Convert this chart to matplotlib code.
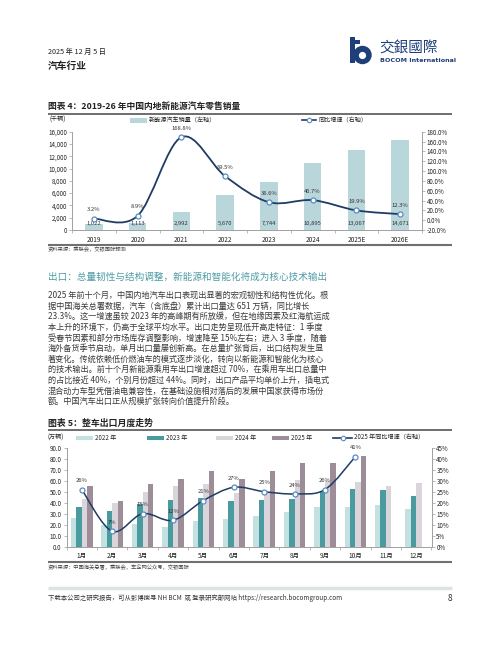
import matplotlib
matplotlib.use("Agg")
import matplotlib.pyplot as plt
from matplotlib.path import Path
from matplotlib.patches import PathPatch, Rectangle, Circle
from matplotlib.lines import Line2D
import numpy as np

plt.rcParams['font.family'] = ['Noto Sans CJK SC', 'DejaVu Sans']

# ---------------- data ----------------
years = ["2019", "2020", "2021", "2022", "2023", "2024", "2025E", "2026E"]
nev_sales = [1022, 1113, 2992, 5670, 7744, 10895, 13067, 14671]
nev_growth = [3.2, 8.9, 168.8, 89.5, 36.6, 40.7, 19.9, 12.3]

months = ["1月", "2月", "3月", "4月", "5月", "6月", "7月", "8月", "9月", "10月", "11月", "12月"]
exp_2022 = [26.5, 20.0, 20.2, 17.8, 23.5, 25.6, 28.0, 31.6, 36.0, 35.8, 37.6, 34.6]
exp_2023 = [35.8, 32.5, 38.5, 42.5, 44.0, 41.3, 42.8, 43.7, 51.0, 52.7, 52.0, 46.0]
exp_2024 = [43.4, 39.5, 49.4, 55.4, 57.0, 48.5, 50.0, 60.5, 60.0, 58.4, 55.0, 57.5]
exp_2025 = [55.0, 42.0, 57.2, 62.0, 69.0, 62.0, 69.0, 76.0, 76.0, 82.8, None, None]
exp_growth = [26, 7, 15, 12, 21, 27, 25, 24, 26, 41]

paragraph = [
    "2025 年前十个月，中国内地汽车出口表现出显著的宏观韧性和结构性优化。根",
    "据中国海关总署数据，汽车（含底盘）累计出口量达 651 万辆，同比增长",
    "23.3%。这一增速虽较 2023 年的高峰期有所放缓，但在地缘因素及红海航运成",
    "本上升的环境下，仍高于全球平均水平。出口走势呈现低开高走特征：1 季度",
    "受春节因素和部分市场库存调整影响，增速降至 15%左右；进入 3 季度，随着",
    "海外备货季节启动，单月出口量屡创新高。在总量扩张背后，出口结构发生显",
    "著变化。传统依赖低价燃油车的模式逐步淡化，转向以新能源和智能化为核心",
    "的技术输出。前十个月新能源乘用车出口增速超过 70%，在乘用车出口总量中",
    "的占比接近 40%，个别月份超过 44%。同时，出口产品平均单价上升，插电式",
    "混合动力车型凭借油电兼容性，在基础设施相对落后的发展中国家获得市场份",
    "额。中国汽车出口正从规模扩张转向价值提升阶段。",
]

# ---------------- styles ----------------
W, H = 500, 647
NAVY = "#1F3C64"
MEDGE = "#5B8CC0"
BAR4 = "#B9D6DB"
C22, C23, C24, C25 = "#C3E1E1", "#4A9B9F", "#D9D5DB", "#9C8D99"
TXT = "#222222"
SPINE = "#A0A0A0"
TEAL = "#4E9BA6"

fig = plt.figure(figsize=(W / 100, H / 100), dpi=100)

# page overlay axes in pixel coordinates
page = fig.add_axes([0, 0, 1, 1])
page.set_xlim(0, W)
page.set_ylim(H, 0)
page.axis("off")
page.set_zorder(0)


def ptxt(x, y, s, **kw):
    kw.setdefault("va", "center")
    kw.setdefault("ha", "left")
    kw.setdefault("color", TXT)
    page.text(x, y, s, **kw)


def pline(x0, x1, y, lw, color):
    page.add_line(Line2D([x0, x1], [y, y], lw=lw, color=color, solid_capstyle="butt"))


# header
ptxt(48, 52, "2025 年 12 月 5 日", fontsize=5.2)
ptxt(48, 66, "汽车行业", fontsize=7, fontweight="bold")

# logo
page.add_patch(Rectangle((350, 37), 4.5, 26, color="#1E3F7A", lw=0))
page.add_patch(Circle((362.5, 55), 9.2, color="#1E3F7A", lw=0))
page.add_patch(Circle((362.5, 55.5), 3.6, color="white", lw=0))
page.add_patch(Rectangle((354, 40), 6, 3.5, color="#1E3F7A", lw=0))
ptxt(379, 47.5, "交銀國際", fontsize=10.5, color="#1E3F7A",
     family=["Noto Sans CJK TC", "DejaVu Sans"])
ptxt(380, 60, "BOCOM International", fontsize=4.6, color="#1E3F7A",
     fontweight="bold", family=["DejaVu Sans"])

# ---- chart 4 decorations ----
ptxt(48, 106, "图表 4：2019-26 年中国内地新能源汽车零售销量", fontsize=6.3, fontweight="bold")
pline(48, 452, 113.5, 1.2, "#555555")
ptxt(50, 120, "(千辆)", fontsize=4.4)
page.add_patch(Rectangle((130, 117.5), 17, 5, color=BAR4, lw=0))
ptxt(149, 120, "新能源汽车销量（左轴）", fontsize=4.4)
page.add_line(Line2D([302, 316], [120, 120], lw=1.2, color=NAVY))
page.add_line(Line2D([309], [120], marker="o", ms=3.2, mfc="white", mec=MEDGE, mew=0.8))
ptxt(318, 120, "同比增速（右轴）", fontsize=4.4)
pline(48, 452, 244.5, 1.5, "#707070")
ptxt(48, 249, "资料来源：乘联会，交银国际预测", fontsize=3.8, style="italic", color="#444444")

# section heading + paragraph
ptxt(48, 277.5, "出口：总量韧性与结构调整，新能源和智能化将成为核心技术输出",
     fontsize=6.9, color=TEAL)
for i, line in enumerate(paragraph):
    ptxt(48, 295.5 + i * 10.6, line, fontsize=5.9, color="#3A3A3A")

# ---- chart 5 decorations ----
ptxt(48, 423, "图表 5：整车出口月度走势", fontsize=6.4, fontweight="bold")
pline(48, 452, 430, 1.2, "#555555")
ptxt(48, 437.5, "(万辆)", fontsize=4.4)
legend5 = [(76, C22, "2022 年"), (147, C23, "2023 年"), (216, C24, "2024 年"), (272, C25, "2025 年")]
for x0, c, lab in legend5:
    page.add_patch(Rectangle((x0, 435.5), 17, 4.5, color=c, lw=0))
    ptxt(x0 + 19, 437.8, lab, fontsize=4.4)
page.add_line(Line2D([333, 352], [437.8, 437.8], lw=1.2, color=NAVY))
page.add_line(Line2D([342.5], [437.8], marker="o", ms=3.2, mfc="white", mec=MEDGE, mew=0.8))
ptxt(354, 437.8, "2025 年同比增速（右轴）", fontsize=4.4)
pline(48, 452, 561.5, 1.5, "#707070")
ptxt(48, 566, "资料来源：中国海关总署，乘联会，车企网公众号，交银国际", fontsize=3.8,
     style="italic", color="#444444")

# footer
pline(48, 452, 587.5, 2.5, "#DCE4E4")
ptxt(48, 598.5, "下载本公司之研究报告，可从彭博搜寻 NH BCM  或 登录研究部网站 https://research.bocomgroup.com",
     fontsize=4.6, color="#333333")
ptxt(452, 598.5, "8", fontsize=6, ha="right", color="#333333")


def smooth_path(xs, ys):
    pts = np.column_stack([xs, ys]).astype(float)
    n = len(pts)
    verts = [pts[0]]
    codes = [Path.MOVETO]
    for i in range(n - 1):
        p0 = pts[i - 1] if i > 0 else pts[i]
        p1 = pts[i]
        p2 = pts[i + 1]
        p3 = pts[i + 2] if i + 2 < n else pts[i + 1]
        c1 = p1 + (p2 - p0) / 6.0
        c2 = p2 - (p3 - p1) / 6.0
        verts += [c1, c2, p2]
        codes += [Path.CURVE4] * 3
    return Path(verts, codes)


def style_axes(ax, ax2):
    for a in (ax, ax2):
        for s in a.spines.values():
            s.set_color(SPINE)
            s.set_linewidth(0.6)
        a.spines["top"].set_visible(False)
        a.tick_params(axis="y", labelsize=4.5, length=2, width=0.5, color=SPINE,
                      pad=1.5, labelcolor=TXT)
    ax.tick_params(axis="x", which="major", length=0, labelsize=4.7, pad=4, labelcolor=TXT)
    ax.tick_params(axis="x", which="minor", length=2, width=0.5, color=SPINE)
    ax.set_facecolor("none")


# ---------------- chart 4 ----------------
x4 = np.arange(len(years))
ax = fig.add_axes([72 / W, 1 - 230 / H, 350 / W, (230 - 131.7) / H])
ax.bar(x4, nev_sales, width=0.4, color=BAR4, zorder=1)
ax.set_xlim(-0.5, len(years) - 0.5)
ax.set_ylim(0, 16000)
ax.set_yticks(np.arange(0, 16001, 2000))
ax.set_yticklabels([f"{v:,}" for v in range(0, 16001, 2000)])
ax.set_xticks(x4)
ax.set_xticklabels(years)
ax.set_xticks(np.arange(-0.5, len(years), 1.0), minor=True)
for xi, v in zip(x4, nev_sales):
    ax.text(xi, 1050, f"{v:,}", ha="center", va="center", fontsize=4.2, color="#333333", zorder=3)
ax2 = ax.twinx()
ax2.set_ylim(-20, 180)
ax2.set_yticks(np.arange(-20, 181, 20))
ax2.set_yticklabels([f"{v:.1f}%" for v in range(-20, 181, 20)])
style_axes(ax, ax2)
ax2.add_patch(PathPatch(smooth_path(x4, nev_growth), fc="none", ec=NAVY, lw=1.3, zorder=2))
ax2.plot(x4, nev_growth, ls="none", marker="o", ms=3.6, mfc="white", mec=MEDGE, mew=0.9, zorder=3)
for xi, g in zip(x4, nev_growth):
    ax2.annotate(f"{g:.1f}%", (xi, g), xytext=(0, 6.5), textcoords="offset points",
                 ha="center", va="center", fontsize=4.2, color="#333333")

# ---------------- chart 5 ----------------
x5 = np.arange(len(months))
bx = fig.add_axes([66.5 / W, 1 - 546.7 / H, 365 / W, (546.7 - 447.7) / H])
bw = 0.178
series = [(exp_2022, C22), (exp_2023, C23), (exp_2024, C24), (exp_2025, C25)]
for k, (vals, c) in enumerate(series):
    xs = [xi + (k - 1.5) * bw for xi, v in zip(x5, vals) if v is not None]
    vs = [v for v in vals if v is not None]
    bx.bar(xs, vs, width=bw, color=c, zorder=1)
bx.set_xlim(-0.5, len(months) - 0.5)
bx.set_ylim(0, 90)
bx.set_yticks(np.arange(0, 91, 10))
bx.set_yticklabels([f"{v:.1f}" for v in range(0, 91, 10)])
bx.set_xticks(x5)
bx.set_xticklabels(months)
bx.set_xticks(np.arange(-0.5, len(months), 1.0), minor=True)
bx2 = bx.twinx()
bx2.set_ylim(0, 45)
bx2.set_yticks(np.arange(0, 46, 5))
bx2.set_yticklabels([f"{v}%" for v in range(0, 46, 5)])
style_axes(bx, bx2)
xg = x5[:len(exp_growth)]
bx2.add_patch(PathPatch(smooth_path(xg, exp_growth), fc="none", ec=NAVY, lw=1.1, zorder=2))
bx2.plot(xg, exp_growth, ls="none", marker="o", ms=3.6, mfc="white", mec=MEDGE, mew=0.9, zorder=3)
for xi, g in zip(xg, exp_growth):
    bx2.annotate(f"{g}%", (xi, g), xytext=(0, 6.3), textcoords="offset points",
                 ha="center", va="center", fontsize=4.2, color="#333333")

fig.savefig("out.png", dpi=100)
